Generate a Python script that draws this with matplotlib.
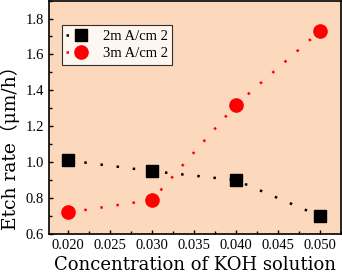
import matplotlib
matplotlib.use("Agg")
import matplotlib.pyplot as plt
from matplotlib.ticker import MultipleLocator

# data
conc = [0.020, 0.030, 0.040, 0.050]
rate_2ma = [1.01, 0.95, 0.90, 0.70]
rate_3ma = [0.72, 0.79, 1.32, 1.73]
labels = ["2m A/cm 2", "3m A/cm 2"]

plt.rcParams["font.family"] = ["Liberation Serif", "DejaVu Serif"]
label_font = ["DejaVu Serif", "Noto Sans CJK SC"]

fig = plt.figure(figsize=(3.42, 2.75), dpi=100)
ax = fig.add_axes([0.143, 0.149, 0.854, 0.849])
ax.set_facecolor("#fcd9bd")

ax.plot(conc, rate_2ma, color="black", marker="s", markersize=8.5,
        linestyle=(0, (1, 5.5)), linewidth=1.8, label=labels[0])
ax.plot(conc, rate_3ma, color="red", marker="o", markersize=9.5,
        linestyle=(0, (1, 5.5)), linewidth=1.8, label=labels[1])

ax.set_xlim(0.0177, 0.0525)
ax.set_ylim(0.6, 1.9)
ax.xaxis.set_major_locator(MultipleLocator(0.005))
ax.xaxis.set_minor_locator(MultipleLocator(0.0025))
ax.yaxis.set_major_locator(MultipleLocator(0.2))
ax.yaxis.set_minor_locator(MultipleLocator(0.1))
ax.xaxis.set_major_formatter(plt.FormatStrFormatter("%.3f"))
ax.yaxis.set_major_formatter(plt.FormatStrFormatter("%.1f"))
ax.tick_params(which="both", direction="in", labelsize=10.5, width=1)
ax.tick_params(which="major", length=3)
ax.tick_params(which="minor", length=2)
for s in ax.spines.values():
    s.set_linewidth(1.2)

ax.set_xlabel("Concentration of KOH solution", fontsize=13, labelpad=3,
              family=label_font)
ax.set_ylabel("Etch rate（μm/h）", fontsize=13.5, family=label_font)
ax.yaxis.set_label_coords(-0.1, 0.39)

leg = ax.legend(loc="upper left", bbox_to_anchor=(0.045, 0.895), fontsize=10.5,
                frameon=True, fancybox=False, edgecolor="black",
                handlelength=2.0, borderpad=0.3, labelspacing=0.3,
                handletextpad=0.5, borderaxespad=0)
leg.get_frame().set_linewidth(0.8)

fig.savefig("out.png", dpi=100)
